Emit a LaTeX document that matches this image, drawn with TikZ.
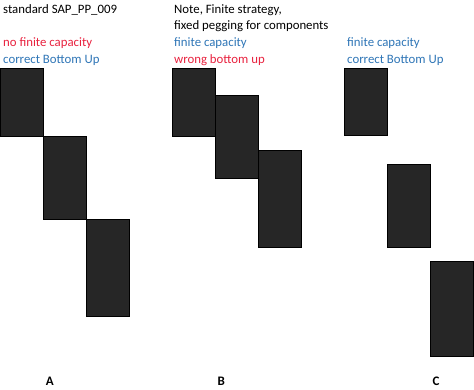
\documentclass[tikz,border=0pt]{standalone}
\usepackage{fontspec}
\setmainfont{Carlito}
\begin{document}
\begin{tikzpicture}[x=1pt,y=-1pt,
  blk/.style={draw=black,line width=0.8pt,fill=black!85},
  txt/.style={anchor=base west,inner sep=0pt,font=\fontsize{12.8}{16}\selectfont},
  lbl/.style={anchor=base,inner sep=0pt,font=\fontsize{13}{16}\selectfont\bfseries},
  redt/.style={text={rgb,255:red,232;green,33;blue,62}},
  bluet/.style={text={rgb,255:red,46;green,117;blue,182}}]
\useasboundingbox (0,0) rectangle (474,390);
% column A
\node[txt] (ta1) at (3,13.5) {standard SAP\_PP\_009};
\node[txt,redt] (ta2) at (3,47) {no finite capacity};
\node[txt,bluet] (ta3) at (3,63.5) {correct Bottom Up};
\filldraw[blk] (0,68) rectangle (43,136);
\filldraw[blk] (43,136) rectangle (86,219);
\filldraw[blk] (86,219) rectangle (129,316);
% column B
\node[txt] (tb1) at (174,13.5) {Note, Finite strategy,};
\node[txt] (tb2) at (174,30) {fixed pegging for components};
\node[txt,bluet] (tb3) at (174,47) {finite capacity};
\node[txt,redt] (tb4) at (174,63.5) {wrong bottom up};
\filldraw[blk] (172,68) rectangle (215,136);
\filldraw[blk] (215,95) rectangle (258,178);
\filldraw[blk] (258,150) rectangle (301,247);
% column C
\node[txt,bluet] (tc1) at (347,47) {finite capacity};
\node[txt,bluet] (tc2) at (347,63.5) {correct Bottom Up};
\filldraw[blk] (344,68) rectangle (387,135);
\filldraw[blk] (387,164) rectangle (430,247);
\filldraw[blk] (430,261) rectangle (473,356);
% labels
\node[lbl] (la) at (49.7,385) {A};
\node[lbl] (lb) at (221.3,385) {B};
\node[lbl] (lc) at (436,385) {C};
\end{tikzpicture}
\end{document}
